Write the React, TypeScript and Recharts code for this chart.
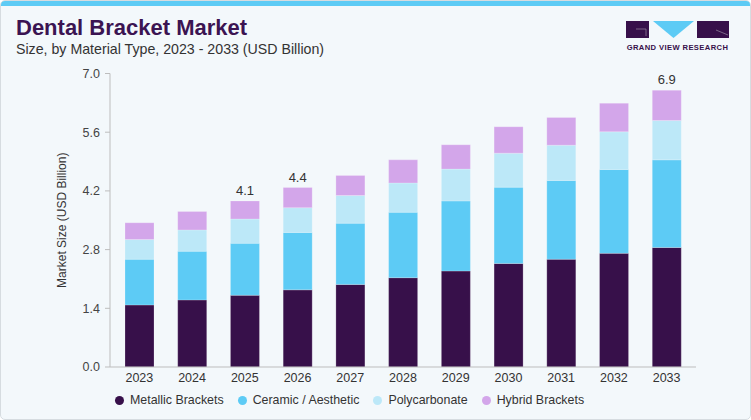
import React from "react";
import { BarChart, Bar, XAxis, YAxis, LabelList } from "recharts";

const years = ["2023", "2024", "2025", "2026", "2027", "2028", "2029", "2030", "2031", "2032", "2033"];
const metallic = [1.48, 1.6, 1.71, 1.84, 1.97, 2.13, 2.29, 2.47, 2.57, 2.71, 2.85];
const ceramic = [1.09, 1.16, 1.24, 1.37, 1.46, 1.56, 1.67, 1.82, 1.88, 2.0, 2.09];
const polycarbonate = [0.47, 0.51, 0.58, 0.59, 0.66, 0.7, 0.76, 0.81, 0.84, 0.9, 0.94];
const hybrid = [0.4, 0.44, 0.43, 0.48, 0.48, 0.55, 0.58, 0.63, 0.66, 0.68, 0.72];
const totals = ["", "", "4.1", "4.4", "", "", "", "", "", "", "6.9"];
const yTicks = [0, 1.4, 2.8, 4.2, 5.6, 7];

const series = [
  { key: "metallic", name: "Metallic Brackets", color: "#37104A" },
  { key: "ceramic", name: "Ceramic / Aesthetic", color: "#5DCBF5" },
  { key: "poly", name: "Polycarbonate", color: "#BCE8F8" },
  { key: "hybrid", name: "Hybrid Brackets", color: "#D3A6EA" },
];

const data = years.map((year, i) => ({
  year,
  metallic: metallic[i],
  ceramic: ceramic[i],
  poly: polycarbonate[i],
  hybrid: hybrid[i],
  total: totals[i],
}));

const FONT = "'Liberation Sans', Arial, sans-serif";

function Logo() {
  return (
    <svg width={110} height={36} style={{ position: "absolute", left: 623, top: 18 }}>
      <rect x={2} y={2} width={23} height={17} fill="#37104A" />
      <path d="M12 10 H22 V17" stroke="#8a7a96" strokeWidth={0.8} fill="none" />
      <polygon points="29,2 70,2 49.5,19" fill="#5DCBF5" />
      <rect x={73} y={2} width={32} height={17} fill="#37104A" />
      <path d="M92 11 L104 16" stroke="#8a7a96" strokeWidth={0.8} />
      <text x={53.5} y={30.5} textAnchor="middle" fontSize={7.6} fontWeight={700} fill="#37104A" fontFamily={FONT} letterSpacing={0.4}>
        GRAND VIEW RESEARCH
      </text>
    </svg>
  );
}

export default function App() {
  return (
    <div
      style={{
        position: "relative",
        width: 749,
        height: 418,
        background: "#F3F8FB",
        border: "1px solid #D6DCE0",
        borderRadius: 5,
        overflow: "hidden",
        fontFamily: FONT,
      }}
    >
      <style>{`body{margin:0}`}</style>
      <div style={{ position: "absolute", left: 0, top: 0, width: "100%", height: 5, background: "#5DCBF5" }} />
      <div style={{ position: "absolute", left: 15, top: 14, fontSize: 22, fontWeight: 700, color: "#3B1452" }}>
        Dental Bracket Market
      </div>
      <div style={{ position: "absolute", left: 15, top: 40, fontSize: 14.2, color: "#333" }}>
        Size, by Material Type, 2023 - 2033 (USD Billion)
      </div>
      <Logo />
      <div style={{ position: "absolute", left: -1, top: -1 }}>
        <BarChart width={751} height={420} data={data} margin={{ top: 73.5, right: 55, left: 50, bottom: 33 }} barSize={29}>
          <XAxis
            dataKey="year"
            height={20}
            padding={{ left: 3, right: 3 }}
            tickSize={6}
            tickMargin={0}
            tickLine={false}
            axisLine={{ stroke: "#BDBDBD" }}
            tick={{ fill: "#333", fontSize: 12.5, fontFamily: FONT }}
            interval={0}
          />
          <YAxis
            width={60}
            domain={[0, 7]}
            ticks={yTicks}
            tickFormatter={(v) => Number(v).toFixed(1)}
            tickSize={5}
            tickMargin={5}
            axisLine={{ stroke: "#BDBDBD" }}
            tickLine={{ stroke: "#BDBDBD" }}
            tick={{ fill: "#444", fontSize: 12.5, fontFamily: FONT }}
            label={{
              value: "Market Size (USD Billion)",
              angle: -90,
              position: "insideLeft",
              offset: 12,
              style: { textAnchor: "middle", fill: "#333", fontSize: 12, fontFamily: FONT },
            }}
          />
          {series.map((s, idx) => (
            <Bar
              key={s.key}
              dataKey={s.key}
              name={s.name}
              stackId="a"
              fill={s.color}
              stroke="rgba(255,255,255,0.35)"
              strokeWidth={0.6}
              isAnimationActive={false}
            >
              {idx === series.length - 1 && (
                <LabelList dataKey="total" position="top" offset={6} fill="#333" fontSize={13} fontFamily={FONT} />
              )}
            </Bar>
          ))}
        </BarChart>
      </div>
      <div
        style={{
          position: "absolute",
          left: 114,
          top: 392,
          display: "flex",
          alignItems: "center",
          gap: 14,
          fontSize: 12.4,
          color: "#333",
        }}
      >
        {series.map((s) => (
          <div key={s.key} style={{ display: "flex", alignItems: "center", gap: 6 }}>
            <span style={{ width: 9, height: 9, borderRadius: "50%", background: s.color, display: "inline-block" }} />
            <span>{s.name}</span>
          </div>
        ))}
      </div>
    </div>
  );
}
